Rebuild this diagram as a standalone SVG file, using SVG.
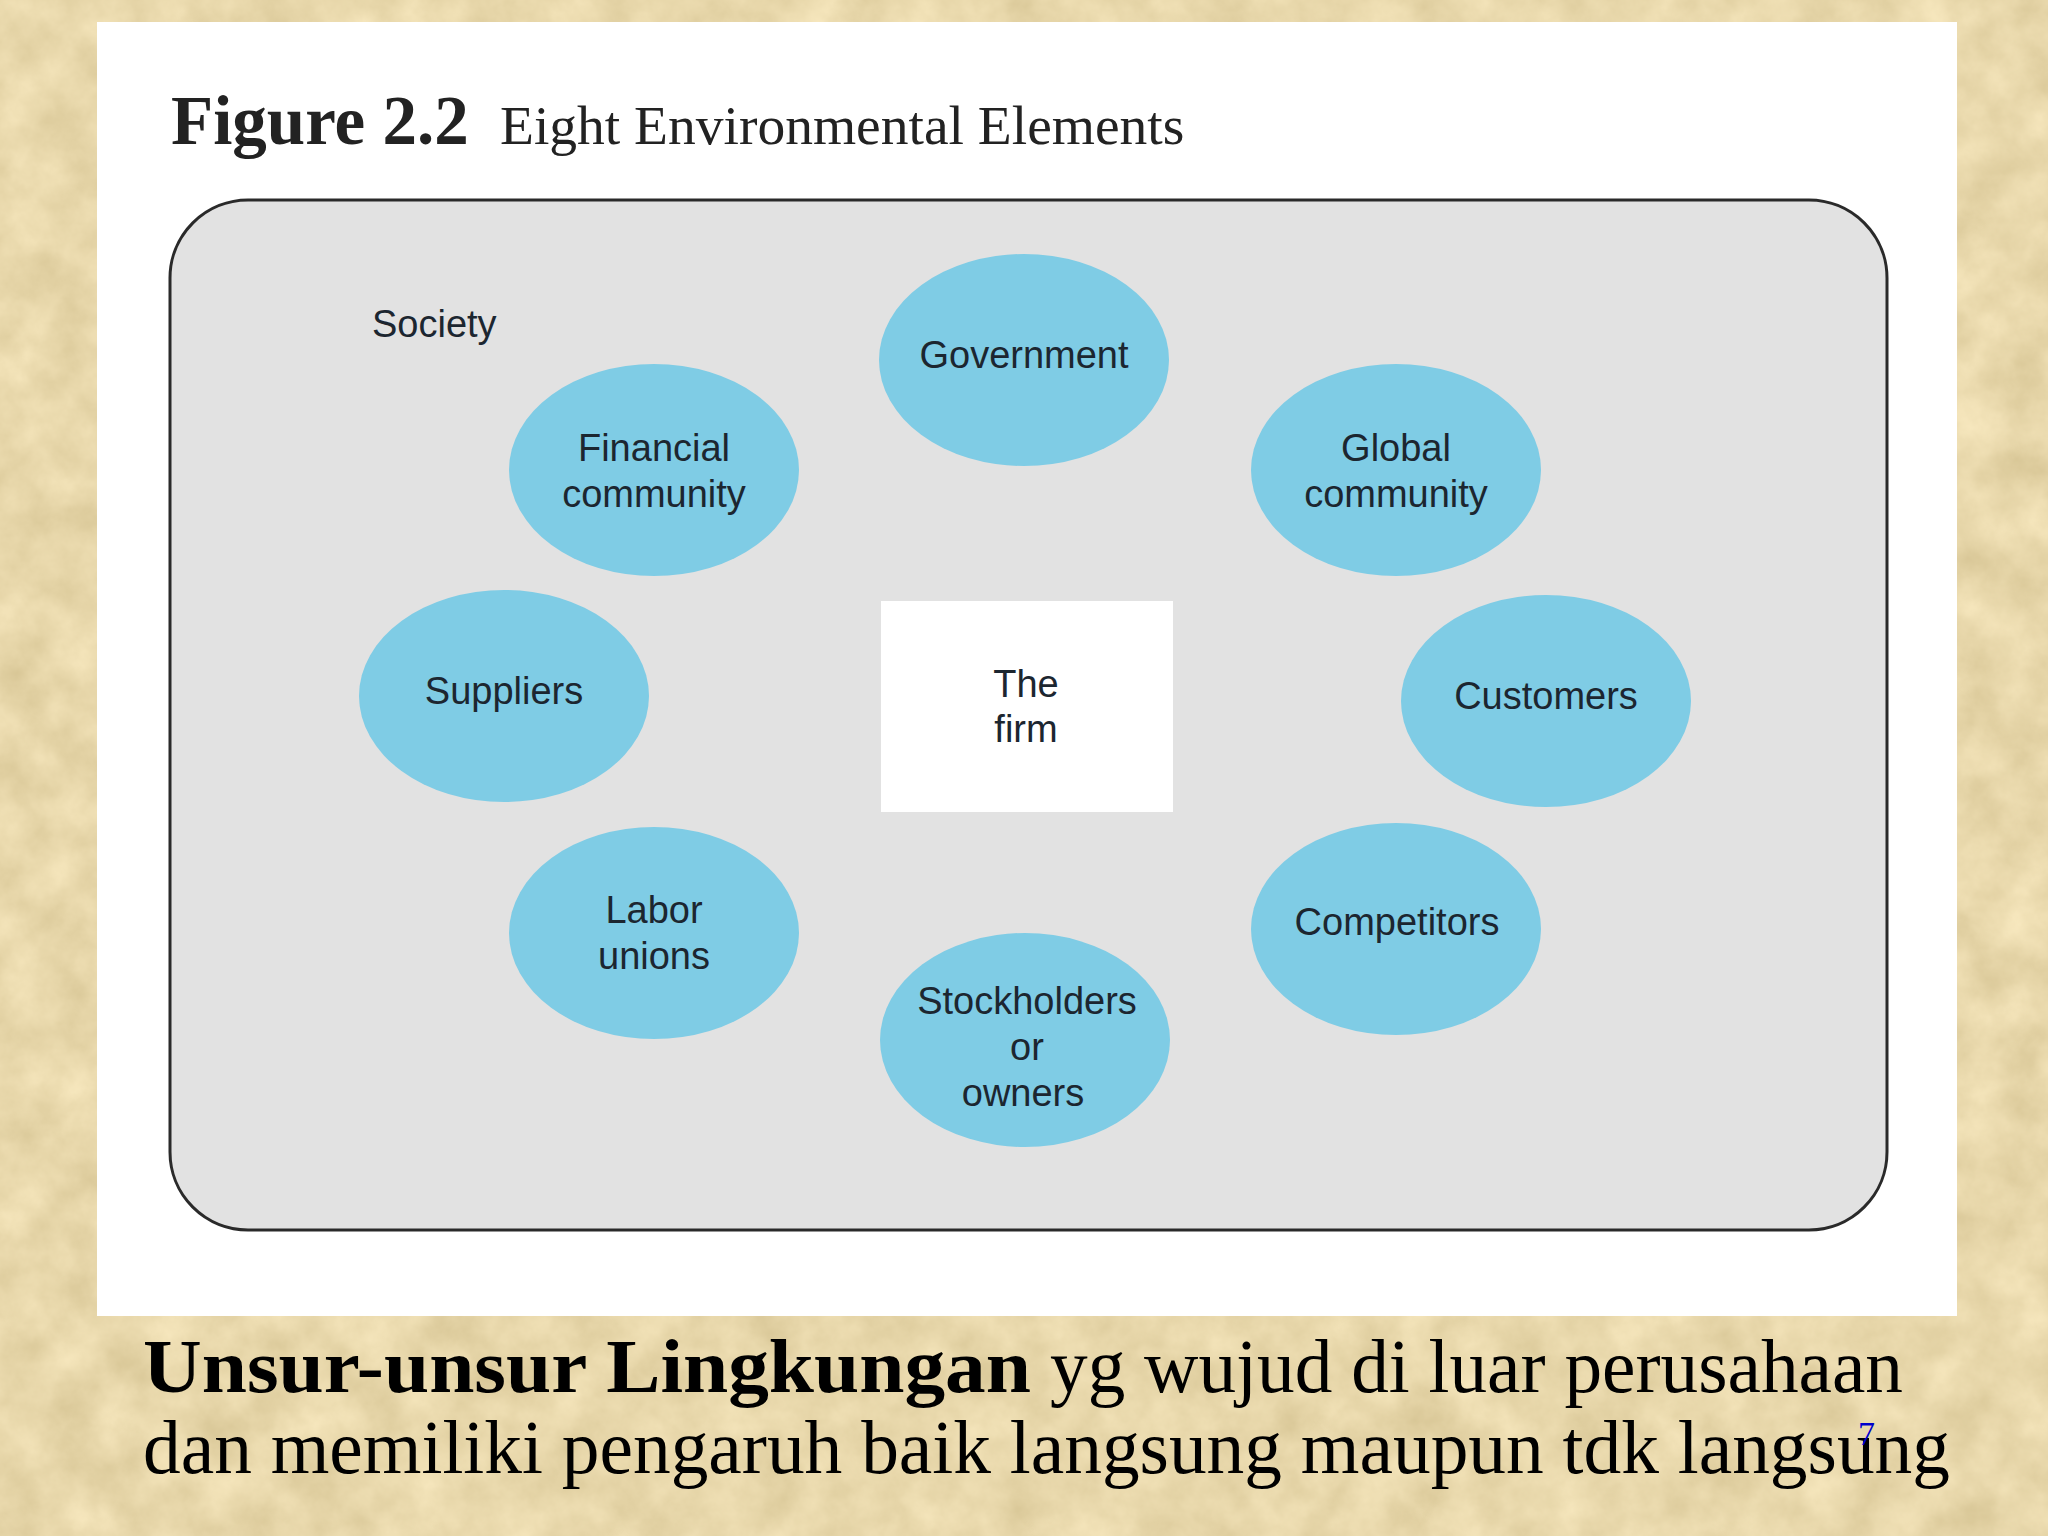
<svg xmlns="http://www.w3.org/2000/svg" width="2048" height="1536" viewBox="0 0 2048 1536">
<defs>
<filter id="paper" filterUnits="userSpaceOnUse" x="0" y="0" width="2048" height="1536" color-interpolation-filters="sRGB">
<feTurbulence type="fractalNoise" baseFrequency="0.02" numOctaves="5" seed="7"/>
<feColorMatrix type="matrix" values="0.14 0 0 0 0.84  0.15 0 0 0 0.77  0.18 0 0 0 0.58  0 0 0 0 1"/>
</filter>
<style>
.el{fill:#7fcce5;}
.lbl{font-family:"Liberation Sans",Arial,sans-serif;font-size:38px;fill:#1c2630;text-anchor:middle;}
.serif{font-family:"Liberation Serif","Times New Roman",serif;}
</style>
</defs>
<rect x="0" y="0" width="2048" height="1536" filter="url(#paper)"/>
<rect x="97" y="22" width="1860" height="1294" fill="#ffffff"/>
<text class="serif" x="171" y="144" font-size="69" font-weight="bold" fill="#222">Figure 2.2</text>
<text class="serif" x="500" y="144" font-size="55.5" fill="#222">Eight Environmental Elements</text>
<g id="society">
<rect x="170" y="200" width="1717" height="1030" rx="78" ry="78" fill="#e2e2e2" stroke="#2a2a2a" stroke-width="3"/>
<text class="lbl" x="372" y="337" style="text-anchor:start">Society</text>
</g>
<g id="connectors"></g>
<g id="firm">
<rect x="881" y="601" width="292" height="211" fill="#ffffff"/>
<text class="lbl" x="1026" y="697">The</text>
<text class="lbl" x="1026" y="742">firm</text>
</g>
<g id="government">
<ellipse class="el" cx="1024" cy="360" rx="145" ry="106"/>
<text class="lbl" x="1024" y="368">Government</text>
</g>
<g id="financial">
<ellipse class="el" cx="654" cy="470" rx="145" ry="106"/>
<text class="lbl" x="654" y="461">Financial</text>
<text class="lbl" x="654" y="507">community</text>
</g>
<g id="global">
<ellipse class="el" cx="1396" cy="470" rx="145" ry="106"/>
<text class="lbl" x="1396" y="461">Global</text>
<text class="lbl" x="1396" y="507">community</text>
</g>
<g id="suppliers">
<ellipse class="el" cx="504" cy="696" rx="145" ry="106"/>
<text class="lbl" x="504" y="704">Suppliers</text>
</g>
<g id="customers">
<ellipse class="el" cx="1546" cy="701" rx="145" ry="106"/>
<text class="lbl" x="1546" y="709">Customers</text>
</g>
<g id="labor">
<ellipse class="el" cx="654" cy="933" rx="145" ry="106"/>
<text class="lbl" x="654" y="923">Labor</text>
<text class="lbl" x="654" y="969">unions</text>
</g>
<g id="competitors">
<ellipse class="el" cx="1396" cy="929" rx="145" ry="106"/>
<text class="lbl" x="1397" y="935">Competitors</text>
</g>
<g id="stockholders">
<ellipse class="el" cx="1025" cy="1040" rx="145" ry="107"/>
<text class="lbl" x="1027" y="1014">Stockholders</text>
<text class="lbl" x="1027" y="1060">or</text>
<text class="lbl" x="1023" y="1106">owners</text>
</g>
<text class="serif" x="143" y="1392" font-size="76" font-weight="bold" fill="#000" textLength="888" lengthAdjust="spacingAndGlyphs">Unsur-unsur Lingkungan</text>
<text class="serif" x="1050" y="1392" font-size="76" fill="#000" textLength="853" lengthAdjust="spacingAndGlyphs">yg wujud di luar perusahaan</text>
<text class="serif" x="143" y="1473" font-size="76" fill="#000" textLength="1807" lengthAdjust="spacingAndGlyphs">dan memiliki pengaruh baik langsung maupun tdk langsung</text>
<text class="serif" x="1858" y="1445" font-size="34" fill="#0000cc">7</text>
</svg>
